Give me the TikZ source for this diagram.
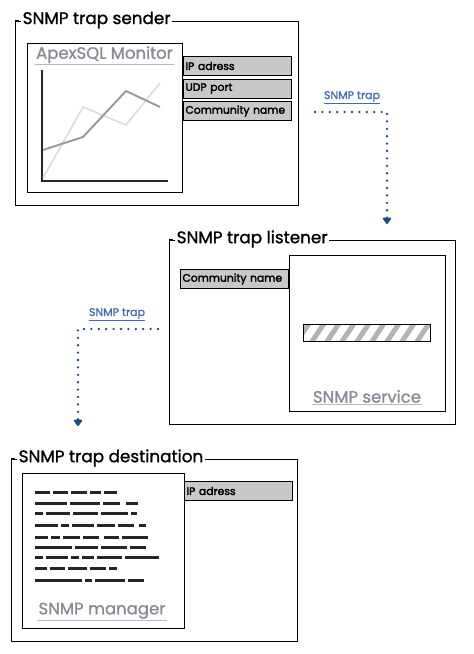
\documentclass[tikz,border=0pt]{standalone}
\usepackage{fontspec}
\setmainfont{Poppins}
\newfontfamily\medfont{Poppins}[FakeBold=1.2]
\newfontfamily\fieldfont{Poppins}[FakeBold=2.4]
\usetikzlibrary{arrows.meta,calc}
\definecolor{trapblue}{HTML}{1F4A8A}
\definecolor{labelblue}{HTML}{3B6BB0}
\definecolor{titlegray}{HTML}{8A8A98}
\definecolor{ulgray}{HTML}{B8B8C4}
\definecolor{fieldgray}{HTML}{C8C8C8}
\definecolor{stripegray}{HTML}{B4B4B4}
\begin{document}
\begin{tikzpicture}[x=1pt,y=-1pt,
  frame/.style={draw=black, line width=1.4pt, anchor=north west, inner sep=0pt},
  inner/.style={draw=black, line width=1.4pt, fill=white, anchor=north west, inner sep=0pt},
  boxtitle/.style={fill=white, anchor=west, inner xsep=1.5pt, inner ysep=0pt, font=\medfont\fontsize{16.8}{18}\selectfont},
  field/.style={draw=black, line width=1pt, fill=fieldgray, anchor=north west, minimum height=19pt,
     text width=104pt, inner xsep=2pt, inner ysep=0pt, align=left, font=\fieldfont\fontsize{10.8}{12}\selectfont},
  apptitle/.style={text=titlegray, inner sep=1pt, font=\medfont\fontsize{16.5}{18}\selectfont},
  ul/.style={draw=ulgray, line width=1.3pt},
  traplabel/.style={text=labelblue, inner sep=1pt, font=\medfont\fontsize{11}{13}\selectfont},
  trapline/.style={draw=trapblue, line width=2.6pt, line cap=round, dash pattern=on 0pt off 7.4pt,
     -{Triangle[width=9.5pt,length=7pt,round]}},
  scrib/.style={draw=black!85, line width=3pt},
]
\useasboundingbox (0,0) rectangle (474,654);

% ---------------- sender ----------------
\node[frame, minimum width=283pt, minimum height=184pt] (sender) at (15,21) {};
\draw[line width=1.4pt] (15,21) -- (19,21);
\node[boxtitle] (sendertitle) at (21,20) {SNMP trap sender};
\node[inner, minimum width=155pt, minimum height=149pt] (apex) at (27,43) {};
\node[apptitle, anchor=north] (apextitle) at (104.5,45) {ApexSQL Monitor};
\draw[ul] ($(apextitle.south west)+(0,0.5)$) -- ($(apextitle.south east)+(0,0.5)$);
% chart
\draw[line width=1.8pt, black!85] (42,70) -- (42,181) -- (168,181);
\draw[line width=1.6pt, black!14] (43,178) -- (83,107) -- (126,125) -- (160,83);
\draw[line width=1.9pt, black!40] (43,150) -- (83,137) -- (126,91) -- (160,107);
\node[field] (ip1) at (183,56) {IP adress};
\node[field] (udp) at (183,78.5) {UDP port};
\node[field] (comm1) at (183,101) {Community name};

% ---------------- listener ----------------
\node[frame, minimum width=286pt, minimum height=184pt] (listener) at (169,240) {};
\draw[line width=1.4pt] (169,240) -- (173,240);
\node[boxtitle] (listenertitle) at (175,239) {SNMP trap listener};
\node[field] (comm2) at (180,269) {Community name};
\node[inner, minimum width=156pt, minimum height=156pt] (service) at (289,255) {};
\begin{scope}
  \clip (303,324) rectangle (430,341);
  \foreach \i in {0,...,10} {
    \draw[stripegray, line width=5pt] (296+\i*15,343) -- (310+\i*15,322);
  }
\end{scope}
\node[draw=black, line width=1.4pt, anchor=north west, minimum width=127pt, minimum height=17pt, inner sep=0pt] (bar) at (303,324) {};
\node[apptitle, anchor=south] (servicetitle) at (367,404) {SNMP service};
\draw[ul] ($(servicetitle.south west)+(0,0.5)$) -- ($(servicetitle.south east)+(0,0.5)$);

% ---------------- destination ----------------
\node[frame, minimum width=286pt, minimum height=182pt] (dest) at (11,459) {};
\draw[line width=1.4pt] (11,459) -- (15,459);
\node[boxtitle] (desttitle) at (17,458) {SNMP trap destination};
\node[field] (ip2) at (184,481) {IP adress};
\node[inner, minimum width=162pt, minimum height=155pt] (manager) at (22,473) {};
% scribbled text
\draw[scrib, dash pattern=on 15pt off 3pt on 15pt off 3pt on 16pt off 3pt on 11pt off 3pt on 13pt off 200pt] (35,492) -- (128,492);
\draw[scrib, dash pattern=on 32pt off 3pt on 30pt off 3pt on 17pt off 6pt on 12pt off 200pt] (35,503) -- (163,503);
\draw[scrib, dash pattern=on 8pt off 3pt on 24pt off 3pt on 25pt off 3pt on 27pt off 3pt on 6pt off 200pt] (35,513) -- (153,513);
\draw[scrib, dash pattern=on 23pt off 3pt on 8pt off 3pt on 22pt off 3pt on 18pt off 3pt on 16pt off 5pt on 7pt off 200pt] (35,525) -- (160,525);
\draw[scrib, dash pattern=on 13pt off 3pt on 9pt off 3pt on 17pt off 3pt on 16pt off 5pt on 15pt off 3pt on 26pt off 200pt] (35,537) -- (159,537);
\draw[scrib, dash pattern=on 37pt off 3pt on 23pt off 3pt on 26pt off 3pt on 16pt off 200pt] (35,547) -- (160,547);
\draw[scrib, dash pattern=on 8pt off 3pt on 22pt off 3pt on 8pt off 3pt on 12pt off 3pt on 25pt off 3pt on 34pt off 200pt] (35,557) -- (167,557);
\draw[scrib, dash pattern=on 12pt off 3pt on 15pt off 3pt on 19pt off 3pt on 16pt off 3pt on 8pt off 200pt] (35,568) -- (127,568);
\draw[scrib, dash pattern=on 47pt off 3pt on 7pt off 3pt on 30pt off 3pt on 16pt off 200pt] (35,580) -- (162,580);
\node[apptitle, anchor=south] (managertitle) at (102,620) {SNMP manager};
\draw[ul] ($(managertitle.south west)+(0,0.5)$) -- ($(managertitle.south east)+(0,0.5)$);

% ---------------- traps ----------------
\coordinate (t1start) at (315,112);
\coordinate (t1end) at (387,224);
\node[traplabel, anchor=south] (trap1) at (352,105) {\underline{SNMP trap}};
\draw[trapline] (t1start) -| (t1end);

\coordinate (t2start) at (158,329);
\coordinate (t2end) at (78,426);
\node[traplabel, anchor=south] (trap2) at (117,322) {\underline{SNMP trap}};
\draw[trapline] (t2start) -| (t2end);
\end{tikzpicture}
\end{document}
